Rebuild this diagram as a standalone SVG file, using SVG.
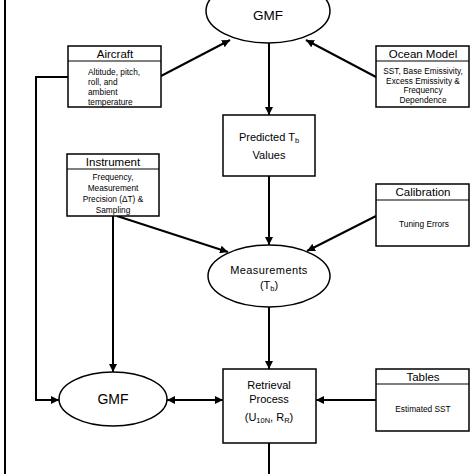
<svg xmlns="http://www.w3.org/2000/svg" width="474" height="474" viewBox="0 0 474 474">
<style>
.box{fill:#fff;stroke:#000;stroke-width:1.5}
.div{stroke:#000;stroke-width:1.2}
.ell{fill:#fff;stroke:#000;stroke-width:1.5}
.con{fill:none;stroke:#000;stroke-width:2}
text{font-family:"Liberation Sans",Arial,sans-serif;fill:#000}
.t{font-size:11.5px;text-anchor:middle}
.b{font-size:8.3px}
.c{text-anchor:middle}
.m{font-size:11px;text-anchor:middle}
</style>
<defs>
<marker id="ah" markerUnits="userSpaceOnUse" markerWidth="9" markerHeight="8" refX="8" refY="4" orient="auto">
<path d="M0,0 L8,4 L0,8 Z" fill="#000"/>
</marker>
<marker id="as" markerUnits="userSpaceOnUse" markerWidth="9" markerHeight="8" refX="1" refY="4" orient="auto">
<path d="M9,0 L1,4 L9,8 Z" fill="#000"/>
</marker>
</defs>
<rect width="474" height="474" fill="#fff"/>
<line x1="5" y1="0" x2="5" y2="474" stroke="#000" stroke-width="2"/>
<g id="connectors">
<line class="con" x1="161" y1="76" x2="230" y2="40" marker-end="url(#ah)"/>
<line class="con" x1="376" y1="77" x2="306" y2="40" marker-end="url(#ah)"/>
<line class="con" x1="269" y1="43" x2="269" y2="115" marker-end="url(#ah)"/>
<line class="con" x1="269" y1="176" x2="269" y2="245" marker-end="url(#ah)"/>
<line class="con" x1="117" y1="216" x2="228" y2="252" marker-end="url(#ah)"/>
<line class="con" x1="376" y1="216" x2="307" y2="251" marker-end="url(#ah)"/>
<line class="con" x1="269" y1="307" x2="269" y2="369" marker-end="url(#ah)"/>
<line class="con" x1="376" y1="400" x2="316" y2="400" marker-end="url(#ah)"/>
<line class="con" x1="113" y1="216" x2="113" y2="372" marker-end="url(#ah)"/>
<polyline class="con" points="68,77 36,77 36,400 59,400" marker-end="url(#ah)"/>
<line class="con" x1="167" y1="400" x2="223" y2="400" marker-start="url(#as)" marker-end="url(#ah)"/>
<line class="con" x1="269" y1="443" x2="269" y2="474"/>
</g>
<g id="gmf-top">
<ellipse class="ell" cx="268" cy="11" rx="62" ry="32"/>
<text x="268" y="20" font-size="13.5" class="c">GMF</text>
</g>
<g id="aircraft">
<rect class="box" x="68" y="46" width="93" height="61"/>
<line class="div" x1="68" y1="61" x2="161" y2="61"/>
<text x="115" y="57.5" class="t">Aircraft</text>
<text class="b" x="88" y="75">Altitude,  pitch,</text>
<text class="b" x="88" y="84.5">roll, and</text>
<text class="b" x="88" y="95">ambient</text>
<text class="b" x="88" y="105">temperature</text>
</g>
<g id="ocean-model">
<rect class="box" x="376" y="46" width="93" height="61"/>
<line class="div" x1="376" y1="61" x2="469" y2="61"/>
<text x="423" y="57.5" class="t">Ocean  Model</text>
<text class="b c" x="423" y="74">SST, Base Emissivity,</text>
<text class="b c" x="423" y="83.5">Excess Emissivity &amp;</text>
<text class="b c" x="423" y="93">Frequency</text>
<text class="b c" x="423" y="103">Dependence</text>
</g>
<g id="predicted">
<rect class="box" x="223" y="115" width="92" height="61"/>
<text x="269" y="141" class="m" font-size="10.5">Predicted  T<tspan font-size="7.5" dy="1.5">b</tspan></text>
<text x="269" y="159" class="m" font-size="10.5">Values</text>
</g>
<g id="instrument">
<rect class="box" x="67" y="154" width="92" height="62"/>
<line class="div" x1="67" y1="169" x2="159" y2="169"/>
<text x="113" y="166" class="t">Instrument</text>
<text class="b c" x="113" y="180">Frequency,</text>
<text class="b c" x="113" y="191">Measurement</text>
<text class="b c" x="113" y="201.5">Precision (ΔT) &amp;</text>
<text class="b c" x="113" y="213">Sampling</text>
</g>
<g id="calibration">
<rect class="box" x="376" y="184" width="93" height="62"/>
<line class="div" x1="376" y1="200" x2="469" y2="200"/>
<text x="423" y="196" class="t">Calibration</text>
<text class="b c" x="424" y="227">Tuning  Errors</text>
</g>
<g id="measurements">
<ellipse class="ell" cx="269" cy="276" rx="61" ry="31"/>
<text x="269" y="274" class="m" font-size="10.5" letter-spacing="0.4">Measurements</text>
<text x="269" y="289" class="m" font-size="10.5">(T<tspan font-size="7.5" dy="1.5">b</tspan><tspan dy="-1.5">)</tspan></text>
</g>
<g id="gmf-bottom">
<ellipse class="ell" cx="113" cy="399" rx="54" ry="27"/>
<text x="113" y="404" font-size="14" class="c">GMF</text>
</g>
<g id="retrieval">
<rect class="box" x="223" y="369" width="93" height="74"/>
<text x="269" y="389" class="m">Retrieval</text>
<text x="269" y="403" class="m">Process</text>
<text x="269" y="421" class="m">(U<tspan font-size="7.5" dy="1.5">10N</tspan><tspan dy="-1.5">,  R</tspan><tspan font-size="7.5" dy="1.5">R</tspan><tspan dy="-1.5">)</tspan></text>
</g>
<g id="tables">
<rect class="box" x="376" y="369" width="93" height="62"/>
<line class="div" x1="376" y1="384" x2="469" y2="384"/>
<text x="423" y="381" class="t">Tables</text>
<text class="b c" x="423" y="412">Estimated  SST</text>
</g>
</svg>
